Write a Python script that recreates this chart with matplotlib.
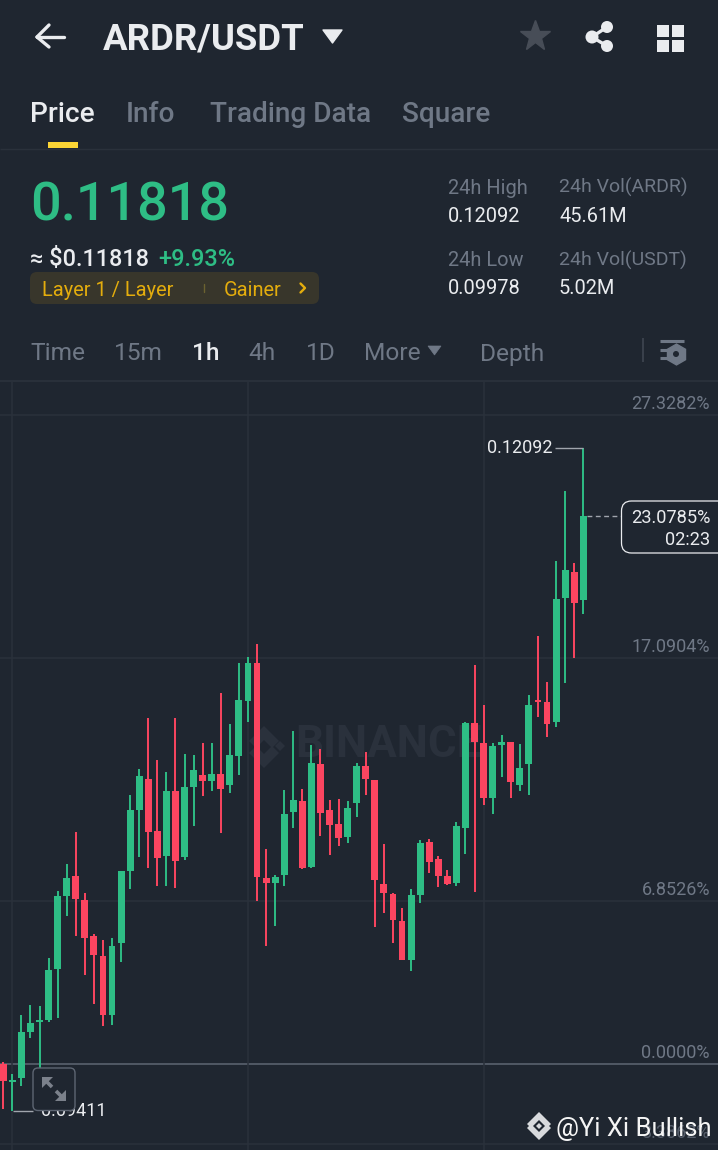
import matplotlib
matplotlib.use("Agg")
import matplotlib.pyplot as plt
from matplotlib.patches import FancyBboxPatch, Rectangle, Circle, Polygon
import numpy as np

# ---- chart data (percent change) ----
directions = "rgggggggrrrrggggrrgrggrgrgggrrgggrgrrrggrrrrrggrrrggrrggrggrrggrg"
highs = [0.08,-0.45,2.05,2.47,2.43,4.46,7.26,8.40,9.75,7.20,5.45,5.20,5.28,8.10,11.32,12.40,
         14.55,12.79,12.30,14.55,13.06,12.99,13.51,13.51,15.60,14.30,16.88,17.12,17.67,9.06,
         7.93,11.52,14.03,11.58,13.41,13.26,11.11,11.16,11.08,12.65,13.13,11.96,9.24,7.18,
         6.54,7.35,9.41,9.45,8.75,8.15,10.17,14.40,16.80,15.10,13.50,13.83,13.54,13.48,15.55,
         18.01,16.07,21.19,24.13,21.08,25.94]
body_tops = [0.00,-0.68,1.32,1.71,1.85,3.96,7.06,7.82,7.91,6.91,5.39,4.55,4.96,8.10,10.67,12.13,
             11.99,9.81,11.47,11.47,11.64,12.36,12.17,12.19,12.19,12.99,15.31,16.89,16.89,7.81,
             7.85,10.51,11.10,11.05,12.68,12.64,10.67,10.11,10.76,12.54,12.55,11.95,7.56,7.13,
             6.00,7.09,9.31,9.35,8.61,7.91,10.00,14.34,14.37,13.51,13.38,13.54,13.54,12.46,15.11,
             15.32,15.23,19.59,20.80,20.72,23.08]
body_bottoms = [-0.73,-0.76,-0.62,1.32,1.74,1.85,3.97,7.08,6.92,5.28,4.58,2.06,2.05,5.07,8.10,10.69,
                9.77,8.68,8.76,8.54,8.69,11.67,11.91,11.92,11.56,11.73,12.95,15.29,7.85,7.61,
                7.62,7.95,10.59,8.26,8.27,10.56,10.07,9.51,9.54,10.97,11.98,7.75,7.20,6.06,
                4.37,4.37,7.09,8.48,7.91,7.58,7.61,9.93,13.57,11.18,11.18,13.44,11.88,11.74,12.64,
                15.24,14.31,14.40,19.61,19.41,19.52]
lows = [-1.91,-1.98,-0.94,1.07,-0.19,1.75,1.91,6.23,5.36,3.75,2.50,1.60,1.64,4.29,7.37,8.69,
        8.26,7.47,7.47,7.39,8.59,10.03,11.29,11.50,9.70,11.42,12.17,14.40,6.85,4.97,
        5.80,7.47,9.92,8.21,8.26,9.58,8.79,9.18,9.31,10.38,11.32,5.74,6.33,5.09,
        4.37,3.91,6.78,8.04,7.44,7.54,7.47,8.85,7.22,10.88,10.53,12.09,11.18,11.50,11.33,
        14.62,13.75,14.20,16.03,17.10,18.93]
grid_values = [27.3282, 17.0904, 6.8526, 0.0, -3.3862]
grid_labels = ["27.3282%", "17.0904%", "6.8526%", "0.0000%", "3.3862%"]
vgrid_candles = [1, 27, 53]
high_label = "0.12092"
low_label = "0.09411"
last_pct = "23.0785%"
countdown = "02:23"

tabs = ["Price", "Info", "Trading Data", "Square"]
tab_x = [30, 126, 210, 402]
intervals = ["Time", "15m", "1h", "4h", "1D", "More", "Depth"]
interval_x = [30, 114, 192, 248, 306, 364, 480]

BG = "#1f2630"; GRID = "#2a313b"; GREEN = "#2ebd85"; RED = "#fb4560"
WHITE = "#eaecef"; GRAY = "#6f7886"; LINE = "#5e6673"; YEL = "#e4ad0d"; WM = "#2a313c"

plt.rcParams["font.family"] = ["Roboto", "DejaVu Sans"]
W, H = 718, 1150
fig = plt.figure(figsize=(W/100, H/100), dpi=100, facecolor=BG)

# watermark layer, under the candles
wm = fig.add_axes([0, 0, 1, 1], facecolor="none", zorder=0)
wm.set_xlim(0, W); wm.set_ylim(H, 0); wm.axis("off")
wm.text(295, 745, "BINANCE", fontsize=44*0.72, color=WM, fontweight="bold", va="center")
wm.add_patch(Polygon([[264, 726], [279, 741], [272, 748], [264, 740], [256, 748], [249, 741]], closed=True, fc=WM, ec="none"))
wm.add_patch(Polygon([[264, 768], [279, 753], [272, 746], [264, 754], [256, 746], [249, 753]], closed=True, fc=WM, ec="none"))
wm.add_patch(Polygon([[280, 741], [285, 746], [280, 751], [275, 746]], closed=True, fc=WM, ec="none"))

# chart axes
cx = fig.add_axes([0, 0, 1, (H-381)/H], facecolor="none", zorder=1)
step = 9.0625; x0 = 3.3
cx.set_xlim(-x0/step, (W-x0)/step)
scale = 23.73; zero_px = 1063.6
cx.set_ylim((zero_px-1150)/scale, (zero_px-381)/scale)
cx.axis("off")
for v in grid_values:
    cx.axhline(v, color=LINE if v == 0 else GRID, lw=1.1, zorder=1)
for c in vgrid_candles:
    cx.axvline(c, color=GRID, lw=1.1, zorder=1)
idx = np.arange(len(highs))
cols = [GREEN if d == "g" else RED for d in directions]
cx.vlines(idx, lows, highs, colors=cols, lw=1.4, zorder=4)
cx.bar(idx, np.array(body_tops)-np.array(body_bottoms), bottom=body_bottoms,
       width=0.76, color=cols, lw=0, zorder=5)

# overlay in pixel space
ui = fig.add_axes([0, 0, 1, 1], facecolor="none", zorder=2)
ui.set_xlim(0, W); ui.set_ylim(H, 0); ui.axis("off")

def T(x, y, s, px, c=WHITE, w="normal", ha="left", z=10, **k):
    return ui.text(x, y, s, fontsize=px*0.72, color=c, fontweight=w, ha=ha, va="center", zorder=z, **k)

def L(xs, ys, c=WHITE, lw=1.0, z=9, **k):
    ui.plot(xs, ys, color=c, lw=lw, zorder=z, solid_capstyle=k.pop("cap", "round"), **k)

# header
L([37, 64], [37, 37], WHITE, 2.4); L([37, 49], [37, 25], WHITE, 2.4); L([37, 49], [37, 47], WHITE, 2.4)
T(103, 40, "ARDR/USDT", 36.5, WHITE, "bold")
ui.add_patch(Polygon([[323, 30], [342, 30], [332.5, 43]], closed=True, fc=WHITE, ec=WHITE, lw=1, joinstyle="round"))
ui.plot([535], [36], marker="*", ms=23, color="#474d57", mec="#474d57", zorder=9)
L([592, 607], [37, 27], WHITE, 2.4); L([592, 607], [37, 46], WHITE, 2.4)
for (a, b, r) in [(592, 37, 6.5), (607, 27, 6), (607, 46, 6)]:
    ui.add_patch(Circle((a, b), r, fc=WHITE, ec="none", zorder=9))
for a in (657, 672):
    for b in (25, 40):
        ui.add_patch(Rectangle((a, b), 12, 12, fc=WHITE, ec="none", zorder=9))

for x, s, c in zip(tab_x, tabs, [WHITE, GRAY, GRAY, GRAY]):
    T(x, 114, s, 28, c, "medium")
ui.add_patch(Rectangle((48, 142), 30, 6, fc="#fcd535", ec="none", zorder=9))
L([0, W], [148.7, 148.7], GRID, 1.0, cap="butt")

# price block
T(30, 206, "0.11818", 54, GREEN, "medium")
T(30, 259, "≈ $0.11818", 23.5, WHITE, "medium")
T(158, 259, "+9.93%", 23.5, GREEN, "medium")
ui.add_patch(FancyBboxPatch((30, 272), 289, 32, boxstyle="round,pad=0,rounding_size=7",
                            fc="#38362b", ec="none", zorder=5))
T(42, 290, "Layer 1 / Layer", 20, YEL)
L([204, 204], [284, 292], "#6b6230", 1.0)
T(224, 290, "Gainer", 20, YEL)
L([300.5, 305, 300.5], [283.5, 288, 292.5], YEL, 1.7)

# stats
T(448, 189, "24h High", 20, GRAY); T(559, 187, "24h Vol(ARDR)", 19.5, GRAY)
T(448, 217, "0.12092", 20, WHITE); T(559, 216, "45.61M", 20, WHITE)
T(448, 261, "24h Low", 20, GRAY); T(559, 260, "24h Vol(USDT)", 19.5, GRAY)
T(448, 289, "0.09978", 20, WHITE); T(559, 288, "5.02M", 20, WHITE)

# intervals
for x, s in zip(interval_x, intervals):
    T(x, 354, s, 24.5, WHITE if s == "1h" else GRAY, "medium" if s == "1h" else "normal")
ui.add_patch(Polygon([[428, 346], [441, 346], [434.5, 355]], closed=True, fc=GRAY, ec=GRAY, lw=0.5))
L([643, 643], [338, 362], "#3a414c", 1.4, cap="butt")
L([660, 684], [341, 341], GRAY, 2.2, cap="butt")
L([660, 668], [350, 350], GRAY, 2.2, cap="butt"); L([660, 668], [358, 358], GRAY, 2.2, cap="butt")
ui.plot([676], [354], marker="h", ms=15, mfc=GRAY, mec=GRAY, zorder=9)
ui.add_patch(Circle((676, 354), 3, fc=BG, ec="none", zorder=10))
L([0, W], [380.5, 380.5], GRID, 1.4, cap="butt")

# axis labels
for v, s in zip(grid_values[:4], grid_labels[:4]):
    T(710, zero_px - v*scale - 11, s, 18, GRAY, ha="right", z=6)
T(710, 1133, grid_labels[4], 18, "#565e6b", ha="right", z=6)

# high / low / last markers
T(553, 448, high_label, 18, WHITE, ha="right")
L([555, 583], [448, 448], "#a0a5ad", 1.0, cap="butt")
T(107, 1111, low_label, 18, WHITE, ha="right", z=6)
L([13, 33], [1110.7, 1110.7], "#a0a5ad", 1.0, cap="butt", z=6)
L([587, 621], [516, 516], "#a0a5ad", 1.0, cap="butt", ls=(0, (3.5, 2.5)))
ui.add_patch(FancyBboxPatch((621.5, 501), 110, 52, boxstyle="round,pad=0,rounding_size=10",
                            fc=BG, ec=WHITE, lw=0.9, zorder=9))
T(710, 518, last_pct, 18.3, WHITE, ha="right"); T(710, 540, countdown, 18.3, WHITE, ha="right")

# expand button
ui.add_patch(FancyBboxPatch((33, 1068), 42, 42.5, boxstyle="round,pad=0,rounding_size=5",
                            fc=BG, ec="#5e6673", lw=1.0, zorder=7))
L([46, 52], [1081, 1087], "#7b818b", 2.6, z=8, cap="butt")
L([56, 62], [1091, 1097], "#7b818b", 2.6, z=8, cap="butt")
ui.add_patch(Polygon([[42, 1077], [53, 1077], [42, 1088]], closed=True, fc="#7b818b", ec="none", zorder=8))
ui.add_patch(Polygon([[66, 1101], [55, 1101], [66, 1090]], closed=True, fc="#7b818b", ec="none", zorder=8))

# user tag
T(556, 1129, "@Yi Xi Bullish", 25.5, "#f5f5f5", z=12)
ui.add_patch(Polygon([[539, 1112], [551, 1124], [547, 1128], [539, 1120], [531, 1128], [527, 1124]], closed=True, fc="#d8dadd", ec="none", zorder=12))
ui.add_patch(Polygon([[539, 1140], [551, 1128], [547, 1124], [539, 1132], [531, 1124], [527, 1128]], closed=True, fc="#d8dadd", ec="none", zorder=12))
ui.add_patch(Polygon([[539, 1123], [542, 1126], [539, 1129], [536, 1126]], closed=True, fc="#d8dadd", ec="none", zorder=12))

fig.savefig("out.png", dpi=100, facecolor=BG)
